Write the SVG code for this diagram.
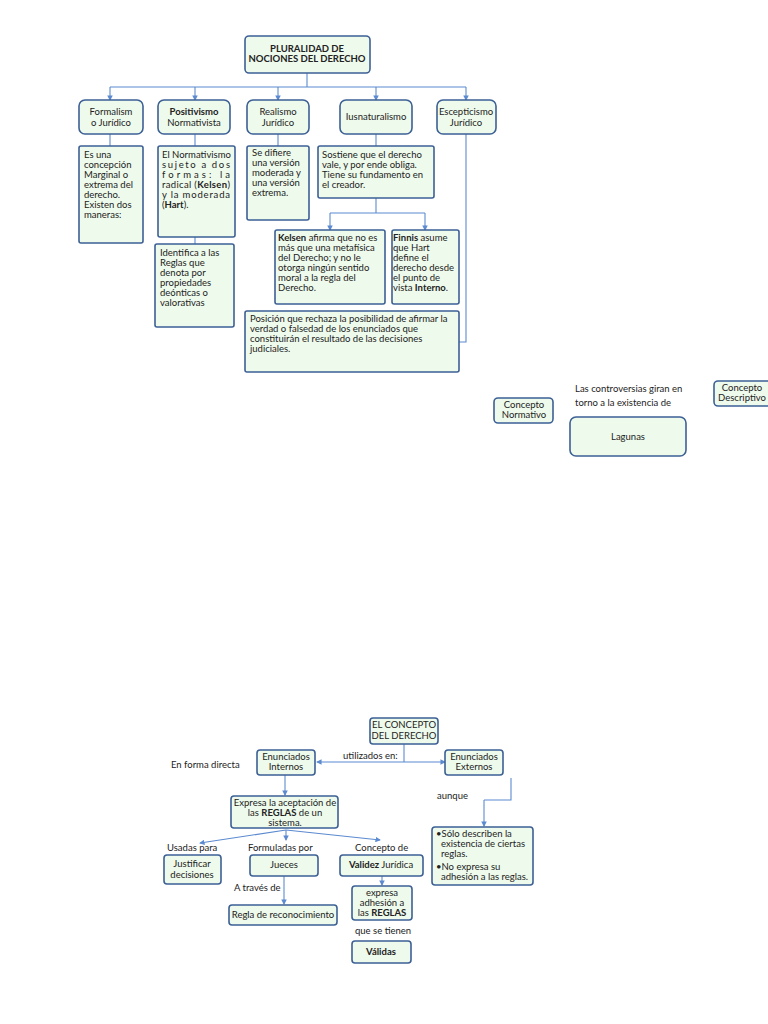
<svg xmlns="http://www.w3.org/2000/svg" width="768" height="1024" viewBox="0 0 768 1024">
<style>
text{font-family:Lato,"Liberation Sans",sans-serif;font-size:9.5px;fill:#222}
.b{fill:#eefaec;stroke:#3d6095;stroke-width:1.6}
.c{fill:none;stroke:#5b8ad0;stroke-width:1.1}
.m{text-anchor:middle}
.k{font-weight:bold}
</style>
<defs><marker id="a" viewBox="0 0 6 6" refX="5" refY="3" markerWidth="5" markerHeight="5" orient="auto"><path d="M0,0L6,3L0,6z" fill="#5b8ad0"/></marker></defs>
<rect width="768" height="1024" fill="#fff"/>
<g id="connectors">
<path class="c" d="M307,73V87M110,87H466"/>
<path class="c" marker-end="url(#a)" d="M110,87V100"/><path class="c" marker-end="url(#a)" d="M195,87V100"/><path class="c" marker-end="url(#a)" d="M278,87V100"/><path class="c" marker-end="url(#a)" d="M376,87V100"/><path class="c" marker-end="url(#a)" d="M466,87V100"/>
<path class="c" d="M110,134V146M195,134V146M278,134V146M376,134V146M195,237V244"/>
<path class="c" d="M376,198V213M330,213H425"/>
<path class="c" marker-end="url(#a)" d="M330,213V230"/><path class="c" marker-end="url(#a)" d="M425,213V230"/>
<path class="c" d="M466,134V342H459"/>
<path class="c" d="M404,744V762"/>
<path class="c" marker-end="url(#a)" d="M404,762H317"/><path class="c" marker-end="url(#a)" d="M404,762H445"/>
<path class="c" marker-end="url(#a)" d="M285,775V795"/>
<path class="c" marker-end="url(#a)" d="M286,830L200,843"/><path class="c" marker-end="url(#a)" d="M286,830V840"/><path class="c" marker-end="url(#a)" d="M286,830L380,840"/>
<path class="c" marker-end="url(#a)" d="M284,876V904"/>
<path class="c" marker-end="url(#a)" d="M382,876V885"/>
<path class="c" d="M511,778V800H484"/><path class="c" marker-end="url(#a)" d="M484,800V826"/>
</g>
<g id="title"><rect class="b" x="245" y="36" width="125" height="37" rx="4"/><text class="m k" x="307" y="52" font-size="9">PLURALIDAD DE</text><text class="m k" x="307" y="62" font-size="9">NOCIONES DEL DERECHO</text></g>
<g id="formalismo"><rect class="b" x="79" y="100" width="64" height="34" rx="6"/><text class="m" x="111" y="115">Formalism</text><text class="m" x="111" y="126">o Jurídico</text></g>
<g id="positivismo"><rect class="b" x="158" y="100" width="72" height="34" rx="6"/><text class="m" x="194" y="115"><tspan class="k">Positivismo</tspan></text><text class="m" x="194" y="126">Normativista</text></g>
<g id="realismo"><rect class="b" x="247" y="100" width="62" height="34" rx="6"/><text class="m" x="278" y="115">Realismo</text><text class="m" x="278" y="126">Jurídico</text></g>
<g id="iusnat"><rect class="b" x="340" y="100" width="72" height="34" rx="6"/><text class="m" x="376" y="120">Iusnaturalismo</text></g>
<g id="escepticismo"><rect class="b" x="437" y="100" width="59" height="34" rx="6"/><text class="m" x="466" y="115">Escepticismo</text><text class="m" x="466" y="126">Jurídico</text></g>
<g id="formalismo-txt"><rect class="b" x="79" y="146" width="64" height="97" rx="2"/><text x="84" y="158">Es una</text><text x="84" y="168">concepción</text><text x="84" y="178">Marginal o</text><text x="84" y="188">extrema del</text><text x="84" y="198">derecho.</text><text x="84" y="208">Existen dos</text><text x="84" y="218">maneras:</text></g>
<g id="positivismo-txt"><rect class="b" x="158" y="146" width="77" height="91" rx="2"/><text x="162" y="158">El Normativismo</text><text x="162" y="168" textLength="68">sujeto a dos</text><text x="162" y="178" textLength="68">formas: la</text><text x="162" y="188" textLength="68">radical (<tspan class="k">Kelsen</tspan>)</text><text x="162" y="198" textLength="68">y la moderada</text><text x="162" y="208">(<tspan class="k">Hart</tspan>).</text></g>
<g id="positivismo-txt2"><rect class="b" x="155" y="244" width="79" height="83" rx="2"/><text x="160" y="256">Identifica a las</text><text x="160" y="266">Reglas que</text><text x="160" y="276">denota por</text><text x="160" y="286">propiedades</text><text x="160" y="296">deónticas o</text><text x="160" y="306">valorativas</text></g>
<g id="realismo-txt"><rect class="b" x="247" y="146" width="62" height="74" rx="2"/><text x="252" y="156">Se difiere</text><text x="252" y="166">una versión</text><text x="252" y="176">moderada y</text><text x="252" y="186">una versión</text><text x="252" y="196">extrema.</text></g>
<g id="iusnat-txt"><rect class="b" x="318" y="146" width="116" height="52" rx="2"/><text x="322" y="158">Sostiene que el derecho</text><text x="322" y="168">vale, y por ende obliga.</text><text x="322" y="178">Tiene su fundamento en</text><text x="322" y="188">el creador.</text></g>
<g id="kelsen"><rect class="b" x="275" y="230" width="110" height="74" rx="2"/><text x="278" y="241"><tspan class="k">Kelsen</tspan> afirma que no es</text><text x="278" y="251">más que una metafísica</text><text x="278" y="261">del Derecho; y no le</text><text x="278" y="271">otorga ningún sentido</text><text x="278" y="281">moral a la regla del</text><text x="278" y="291">Derecho.</text></g>
<g id="finnis"><rect class="b" x="392" y="230" width="67" height="74" rx="2"/><text x="393" y="241"><tspan class="k">Finnis</tspan> asume</text><text x="393" y="251">que Hart</text><text x="393" y="261">define el</text><text x="393" y="271">derecho desde</text><text x="393" y="281">el punto de</text><text x="393" y="291">vista <tspan class="k">Interno</tspan>.</text></g>
<g id="posicion"><rect class="b" x="245" y="311" width="214" height="61" rx="2"/><text x="250" y="322">Posición que rechaza la posibilidad de afirmar la</text><text x="250" y="332">verdad o falsedad de los enunciados que</text><text x="250" y="342">constituirán el resultado de las decisiones</text><text x="250" y="352">judiciales.</text></g>
<g id="normativo"><rect class="b" x="494" y="398" width="59" height="25" rx="4"/><text class="m" x="524" y="408">Concepto</text><text class="m" x="524" y="418">Normativo</text></g>
<g id="controversias"><text x="575" y="392">Las controversias giran en</text><text x="575" y="406">torno a la existencia de</text></g>
<g id="descriptivo"><rect class="b" x="714" y="381" width="58" height="25" rx="4"/><text class="m" x="742" y="391">Concepto</text><text class="m" x="742" y="401">Descriptivo</text></g>
<g id="lagunas"><rect class="b" x="570" y="417" width="116" height="39" rx="6"/><text class="m" x="628" y="440">Lagunas</text></g>
<g id="concepto"><rect class="b" x="370" y="718" width="68" height="26" rx="3"/><text class="m" x="404" y="728">EL CONCEPTO</text><text class="m" x="404" y="739">DEL DERECHO</text></g>
<text x="343" y="759">utilizados en:</text>
<text x="171" y="768">En forma directa</text>
<g id="internos"><rect class="b" x="257" y="750" width="58" height="25" rx="3"/><text class="m" x="286" y="760">Enunciados</text><text class="m" x="286" y="770">Internos</text></g>
<g id="externos"><rect class="b" x="445" y="750" width="58" height="25" rx="3"/><text class="m" x="474" y="760">Enunciados</text><text class="m" x="474" y="770">Externos</text></g>
<text x="437" y="799">aunque</text>
<g id="expresa"><rect class="b" x="231" y="796" width="107" height="32" rx="3"/><text class="m" x="285" y="806">Expresa la aceptación de</text><text class="m" x="285" y="816">las <tspan class="k">REGLAS</tspan> de un</text><text class="m" x="285" y="826">sistema.</text></g>
<text x="167" y="851">Usadas para</text><text x="248" y="851">Formuladas por</text><text x="355" y="851">Concepto de</text>
<g id="justificar"><rect class="b" x="164" y="855" width="57" height="29" rx="3"/><text class="m" x="192" y="867">Justificar</text><text class="m" x="192" y="878">decisiones</text></g>
<g id="jueces"><rect class="b" x="250" y="855" width="68" height="21" rx="3"/><text class="m" x="284" y="868">Jueces</text></g>
<g id="validez"><rect class="b" x="340" y="855" width="83" height="21" rx="3"/><text class="m" x="381" y="868"><tspan class="k">Validez</tspan> Jurídica</text></g>
<text x="234" y="891">A través de</text>
<g id="regla"><rect class="b" x="229" y="905" width="108" height="20" rx="3"/><text class="m" x="283" y="918">Regla de reconocimiento</text></g>
<g id="adhesion"><rect class="b" x="352" y="886" width="60" height="34" rx="3"/><text class="m" x="382" y="896">expresa</text><text class="m" x="382" y="906">adhesión a</text><text class="m" x="382" y="916">las <tspan class="k">REGLAS</tspan></text></g>
<text x="355" y="934">que se tienen</text>
<g id="validas"><rect class="b" x="352" y="941" width="59" height="22" rx="3"/><text class="m k" x="381" y="955">Válidas</text></g>
<g id="solo"><rect class="b" x="432" y="827" width="101" height="58" rx="3"/><text x="436" y="837">•Sólo describen la</text><text x="441" y="847">existencia de ciertas</text><text x="441" y="857">reglas.</text><text x="436" y="870">•No expresa  su</text><text x="441" y="880">adhesión a las reglas.</text></g>
</svg>
